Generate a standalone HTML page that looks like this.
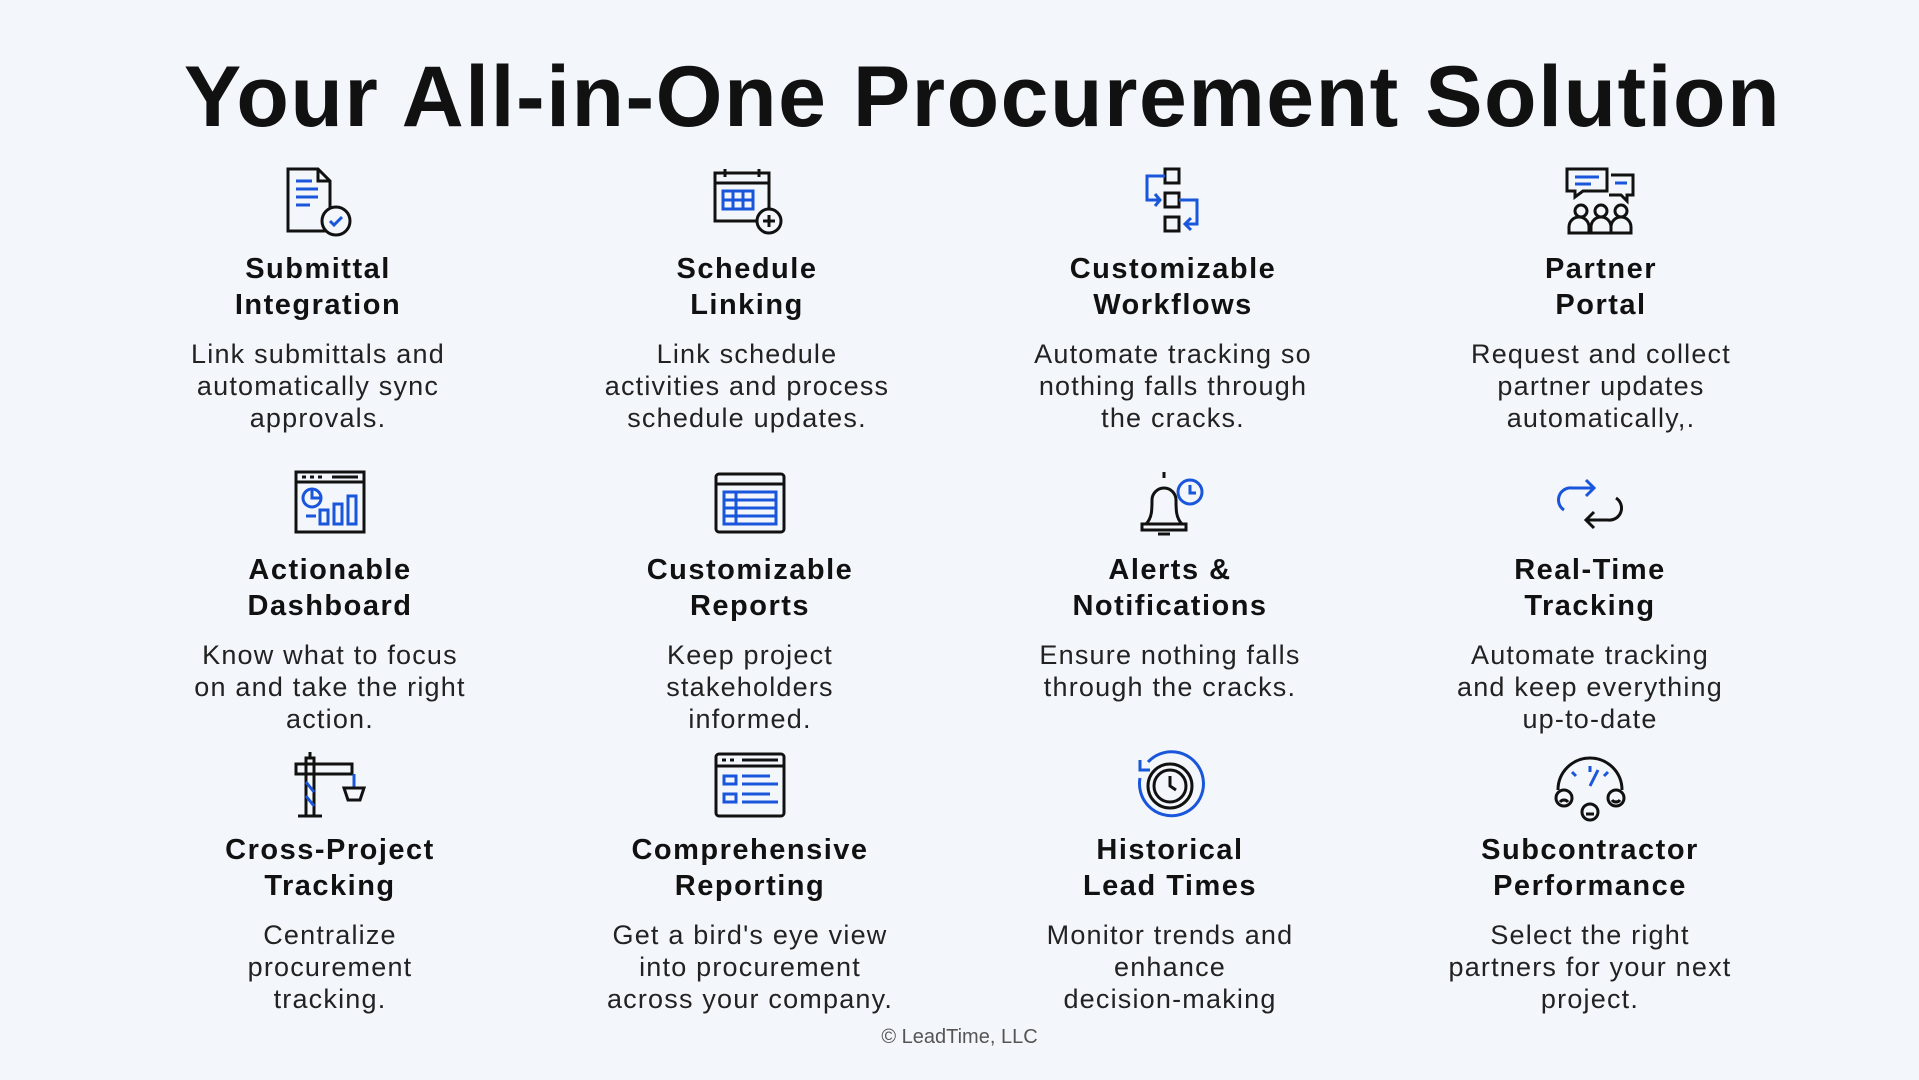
<!DOCTYPE html>
<html><head><meta charset="utf-8"><style>
body{margin:0;width:1919px;height:1080px;background:#f3f6fb;position:relative;overflow:hidden;font-family:"Liberation Sans",sans-serif;color:#111}
h1{position:absolute;left:0;width:1919px;top:48px;margin:0;text-align:center;font-size:86px;font-weight:bold;letter-spacing:1.5px;padding-left:46px;box-sizing:border-box}
.c{position:absolute;width:440px;text-align:center}
.c svg{display:block;margin:0 auto}
.t{font-weight:bold;font-size:29px;line-height:36px;letter-spacing:1.5px}
.d{font-size:27px;line-height:32px;color:#222;margin-top:15px;letter-spacing:1.2px}
.f{position:absolute;top:1026px;width:1919px;text-align:center;font-size:20px;color:#555}
</style></head><body>
<h1>Your All-in-One Procurement Solution</h1>

<div class="c" style="left:98px;top:165px"><svg width="76" height="76" viewBox="0 0 76 76" fill="none" stroke="#111" stroke-width="3"><path d="M8 4h30l12 12v50H8z"/><path d="M38 4v12h12"/><path stroke="#1a56db" d="M16 16h16M16 24h22M16 32h22M16 40h14"/><circle cx="56" cy="56" r="14" fill="#f3f6fb"/><path stroke="#1a56db" d="M50 56l4 4 8-8"/></svg><div class="t" style="margin-top:10px">Submittal<br>Integration</div><div class="d">Link submittals and<br>automatically sync<br>approvals.</div></div>

<div class="c" style="left:527px;top:165px"><svg width="76" height="76" viewBox="0 0 76 76" fill="none" stroke="#111" stroke-width="3"><rect x="6" y="8" width="54" height="48"/><path d="M6 18h54M16 4v8M50 4v8"/><path stroke="#1a56db" d="M14 26h30v18H14zM24 26v18M34 26v18M14 35h30"/><circle cx="60" cy="56" r="12" fill="#f3f6fb"/><path d="M60 50v12M54 56h12"/></svg><div class="t" style="margin-top:10px">Schedule<br>Linking</div><div class="d">Link schedule<br>activities and process<br>schedule updates.</div></div>

<div class="c" style="left:953px;top:165px"><svg width="76" height="76" viewBox="0 0 76 76" fill="none" stroke="#111" stroke-width="3"><rect x="30" y="4" width="14" height="14"/><rect x="30" y="28" width="14" height="14"/><rect x="30" y="52" width="14" height="14"/><path stroke="#1a56db" d="M30 11H12v24h12M20 29l5 6-5 6M44 35h18v24H50M56 53l-6 6 6 6"/></svg><div class="t" style="margin-top:10px">Customizable<br>Workflows</div><div class="d">Automate tracking so<br>nothing falls through<br>the cracks.</div></div>

<div class="c" style="left:1381px;top:165px"><svg width="76" height="76" viewBox="0 0 76 76" fill="none" stroke="#111" stroke-width="3"><path d="M4 4h40v22H20l-8 6v-6H4z"/><path d="M48 10h22v20h-6v6l-6-6H46"/><path stroke="#1a56db" d="M12 12h24M12 19h16M52 18h12"/><circle cx="18" cy="46" r="6"/><circle cx="38" cy="46" r="6"/><circle cx="58" cy="46" r="6"/><path d="M6 68v-6a8 8 0 0 1 20 0v6zM28 68v-6a8 8 0 0 1 20 0v6zM48 68v-6a8 8 0 0 1 20 0v6z"/></svg><div class="t" style="margin-top:10px">Partner<br>Portal</div><div class="d">Request and collect<br>partner updates<br>automatically,.</div></div>

<div class="c" style="left:110px;top:466px"><svg width="76" height="76" viewBox="0 0 76 76" fill="none" stroke="#111" stroke-width="3"><rect x="4" y="6" width="68" height="60"/><path d="M4 16h68M10 11h4M18 11h4M26 11h4M40 11h26"/><circle stroke="#1a56db" cx="20" cy="32" r="9"/><path stroke="#1a56db" d="M20 23v9h9M28 58V44h8v14zM42 58V38h8v20zM56 58V30h8v28zM14 50h10"/></svg><div class="t" style="margin-top:10px">Actionable<br>Dashboard</div><div class="d">Know what to focus<br>on and take the right<br>action.</div></div>

<div class="c" style="left:530px;top:466px"><svg width="76" height="76" viewBox="0 0 76 76" fill="none" stroke="#111" stroke-width="3"><rect x="4" y="8" width="68" height="58" rx="3"/><path d="M4 18h68"/><path stroke="#1a56db" d="M12 26h52v32H12zM12 34h52M12 42h52M12 50h52M24 26v32"/></svg><div class="t" style="margin-top:10px">Customizable<br>Reports</div><div class="d">Keep project<br>stakeholders<br>informed.</div></div>

<div class="c" style="left:950px;top:466px"><svg width="76" height="76" viewBox="0 0 76 76" fill="none" stroke="#111" stroke-width="3"><path d="M32 6v6M14 58c6-6 6-14 6-24a12 12 0 0 1 24 0c0 10 0 18 6 24zM10 58h44v6H10zM26 68h12"/><circle stroke="#1a56db" cx="58" cy="26" r="12" fill="#f3f6fb"/><path stroke="#1a56db" d="M58 19v8h6"/></svg><div class="t" style="margin-top:10px">Alerts &amp;<br>Notifications</div><div class="d">Ensure nothing falls<br>through the cracks.</div></div>

<div class="c" style="left:1370px;top:466px"><svg width="76" height="76" viewBox="0 0 76 76" fill="none" stroke="#111" stroke-width="3"><path stroke="#1a56db" d="M40 22H20a12 12 0 0 0-8 22M34 14l8 8-8 8"/><path d="M36 54h20a12 12 0 0 0 8-22M42 46l-8 8 8 8"/></svg><div class="t" style="margin-top:10px">Real-Time<br>Tracking</div><div class="d">Automate tracking<br>and keep everything<br>up-to-date</div></div>

<div class="c" style="left:110px;top:748px"><svg width="76" height="76" viewBox="0 0 76 76" fill="none" stroke="#111" stroke-width="3"><path d="M14 10h8v58h-8zM6 68h24M4 16h56v10H4zM18 4v6"/><path stroke="#1a56db" d="M14 34l8 10M14 48l8 10M62 26v14"/><path d="M52 40h20l-4 12H56z"/></svg><div class="t" style="margin-top:8px">Cross-Project<br>Tracking</div><div class="d">Centralize<br>procurement<br>tracking.</div></div>

<div class="c" style="left:530px;top:748px"><svg width="76" height="76" viewBox="0 0 76 76" fill="none" stroke="#111" stroke-width="3"><rect x="4" y="6" width="68" height="62" rx="3"/><path d="M4 18h68M10 12h4M18 12h4M30 12h36"/><path stroke="#1a56db" d="M12 28h12v8H12zM12 46h12v8H12zM30 28h28M30 36h36M30 46h28M30 54h36"/></svg><div class="t" style="margin-top:8px">Comprehensive<br>Reporting</div><div class="d">Get a bird's eye view<br>into procurement<br>across your company.</div></div>

<div class="c" style="left:950px;top:748px"><svg width="76" height="76" viewBox="0 0 76 76" fill="none" stroke="#111" stroke-width="3"><path stroke="#1a56db" d="M16 14A32 32 0 1 1 8 30M8 12v10h10"/><circle cx="38" cy="38" r="22"/><circle cx="38" cy="38" r="16"/><path d="M38 28v10l6 4"/></svg><div class="t" style="margin-top:8px">Historical<br>Lead Times</div><div class="d">Monitor trends and<br>enhance<br>decision-making</div></div>

<div class="c" style="left:1370px;top:748px"><svg width="76" height="76" viewBox="0 0 76 76" fill="none" stroke="#111" stroke-width="3"><path d="M6 42a32 32 0 0 1 64 0"/><path stroke="#1a56db" d="M38 18v6M20 24l4 4M56 24l-4 4M38 38l8-16"/><circle cx="12" cy="50" r="8" fill="#f3f6fb"/><circle cx="64" cy="50" r="8" fill="#f3f6fb"/><circle cx="38" cy="64" r="8" fill="#f3f6fb"/><path d="M34 66h8M8 54a5 5 0 0 1 8 0M60 52a5 5 0 0 0 8 0"/></svg><div class="t" style="margin-top:8px">Subcontractor<br>Performance</div><div class="d">Select the right<br>partners for your next<br>project.</div></div>

<div class="f">© LeadTime, LLC</div>
</body></html>
